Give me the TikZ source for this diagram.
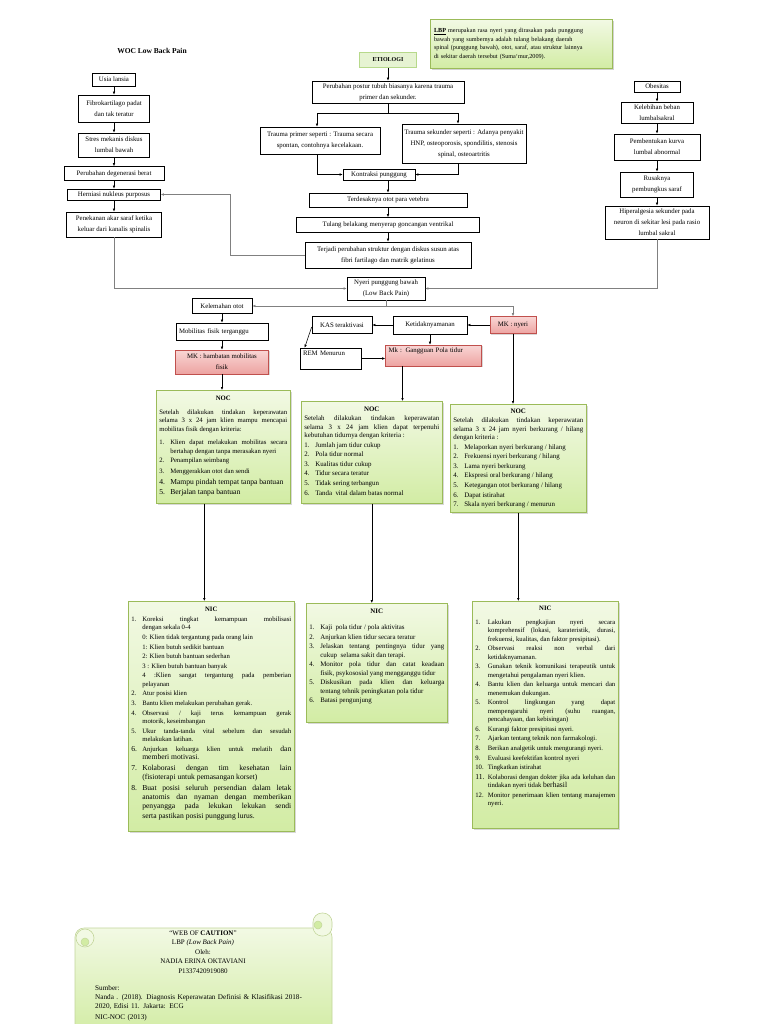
\documentclass[tikz,border=0pt]{standalone}
\usepackage{fontspec}
\setmainfont{Liberation Serif}
\usepackage{xcolor}
\usetikzlibrary{positioning, arrows.meta, shadows}
\definecolor{nocgreen}{HTML}{F2F9E4}
\definecolor{nocgreendeep}{HTML}{D2ECA4}
\definecolor{nocline}{HTML}{9BBB59}
\definecolor{mkpink}{HTML}{F9D6D5}
\definecolor{mkpinkdeep}{HTML}{EDA3A1}
\definecolor{mkline}{HTML}{C0504D}
\definecolor{linegray}{HTML}{808080}
\definecolor{etiofill}{HTML}{E6F3D2}
\definecolor{etioglow}{HTML}{B7D98B}

\newcommand{\flowfont}{\fontsize{6.8}{11}\selectfont}
\newcommand{\tinyfont}{\fontsize{6.7}{8.4}\selectfont}
\newcommand{\panelfont}{\fontsize{6.9}{8.4}\selectfont}
\newcommand{\bigfont}{\fontsize{7.6}{9.4}\selectfont}
\newlength{\itmw}
\newcommand{\itm}[2]{\par\hangindent=\itmw\hangafter=1\noindent\makebox[\itmw][l]{#1}#2}
\newcommand{\subitm}[1]{\par\hangindent=\itmw\hangafter=0\noindent #1}
\newcommand{\panel}[3]{\parbox[t][#1][t]{#2}{\parindent=0pt\parskip=1.2pt\tolerance=9999\emergencystretch=10pt\hyphenpenalty=10000\setlength{\itmw}{11pt}#3\par}}

\begin{document}
\begin{tikzpicture}[x=1pt, y=-1pt,
    box/.style={draw, line width=0.7pt, fill=white, align=center, font=\flowfont, inner sep=1pt},
    mkbox/.style={draw=mkline, line width=0.6pt, top color=mkpink, bottom color=mkpinkdeep,
      drop shadow={opacity=0.3, shadow xshift=1.2pt, shadow yshift=-1.2pt},
      align=center, font=\flowfont, inner sep=1pt},
    greenbox/.style={draw=nocline, line width=0.6pt, top color=nocgreen, bottom color=nocgreendeep,
      drop shadow={opacity=0.3, shadow xshift=1.5pt, shadow yshift=-1.5pt},
      anchor=north west, inner xsep=3pt, inner ysep=2pt},
    arr/.style={-{Latex[length=3pt,width=2.6pt]}, line width=0.55pt},
    feed/.style={arr, draw=linegray}]
  \useasboundingbox (0,0) rectangle (768,1024);
  \fill[white] (0,0) rectangle (768,1024);

  \node[font=\fontsize{7.5}{9}\selectfont\bfseries] (title) at (152,51) {WOC Low Back Pain};

  % left column
  \node[box, minimum width=43pt, minimum height=13pt] (usia) at (114,79.5) {Usia lansia};
  \node[box, minimum width=71pt, minimum height=27pt] (fibro) at (114,108.5) {Fibrokartilago padat\\dan tak teratur};
  \node[box, minimum width=71pt, minimum height=24pt] (stres) at (114,145) {Stres mekanis diskus\\lumbal bawah};
  \node[box, minimum width=100pt, minimum height=14pt] (degen) at (114,173.5) {Perubahan degenerasi berat};
  \node[box, minimum width=93pt, minimum height=11pt] (hernia) at (114,194.5) {Herniasi nukleus purposus};
  \node[box, minimum width=95pt, minimum height=25pt] (tekan) at (114,224.5) {Penekanan akar saraf ketika\\keluar dari kanalis spinalis};

  % etiologi
  \node[draw=etioglow, line width=1.6pt, fill=etiofill, minimum width=57pt, minimum height=15pt,
        font=\fontsize{6}{7}\selectfont\bfseries] (etio) at (388,60) {ETIOLOGI};
  \node[box, minimum width=152pt, minimum height=22pt] (postur) at (388,92) {Perubahan postur tubuh biasanya karena trauma\\primer dan sekunder.};
  \node[box, minimum width=120pt, minimum height=27pt] (primer) at (320,140.5) {Trauma primer seperti : Trauma secara\\spontan, contohnya kecelakaan.};
  \node[box, minimum width=124pt, minimum height=39pt] (sekunder) at (464,143.5) {Trauma sekunder seperti : Adanya penyakit\\HNP, osteoporosis, spondilitis, stenosis\\spinal, osteoartritis};
  \node[box, minimum width=72pt, minimum height=11pt] (kontraksi) at (379,174.5) {Kontraksi punggung};
  \node[box, minimum width=158pt, minimum height=14pt] (desak) at (388,200) {Terdesaknya otot para vetebra};
  \node[box, minimum width=183pt, minimum height=15pt] (tulang) at (388,225) {Tulang belakang menyerap goncangan ventrikal};
  \node[box, minimum width=166pt, minimum height=26pt] (struktur) at (388,255) {Terjadi perubahan struktur dengan diskus susun atas\\fibri fartilago dan matrik gelatinus};

  \node[draw=nocline, line width=0.6pt, top color=nocgreen, bottom color=nocgreendeep,
        drop shadow={opacity=0.35, shadow xshift=2pt, shadow yshift=-2pt},
        text width=174pt, align=left, font=\fontsize{6.2}{8.4}\selectfont,
        inner xsep=4pt, inner ysep=3pt, minimum height=49pt] (lbp) at (521,44)
       {\underline{\textbf{LBP}} merupakan rasa nyeri yang dirasakan pada punggung\\
        bawah yang sumbernya adalah tulang belakang daerah\\
        spinal (punggung bawah), otot, saraf, atau struktur lainnya\\
        di sekitar daerah tersebut (Suma`mur,2009).};

  % right column
  \node[box, minimum width=46pt, minimum height=11pt] (obes) at (657,86.5) {Obesitas};
  \node[box, minimum width=72pt, minimum height=21pt] (beban) at (657,112.5) {Kelebihan beban\\lumbalsakral};
  \node[box, minimum width=86pt, minimum height=26pt] (kurva) at (657,147) {Pembentukan kurva\\lumbal abnormal};
  \node[box, minimum width=73pt, minimum height=25pt] (rusak) at (657,184.5) {Rusaknya\\pembungkus saraf};
  \node[box, minimum width=104pt, minimum height=33pt] (hiper) at (657,222.5) {Hiperalgesia sekunder pada\\neuron di sekitar lesi pada rasio\\lumbal sakral};

  % diagnoses
  \node[box, minimum width=78pt, minimum height=23pt] (nyeri) at (386,288.5) {Nyeri punggung bawah\\(Low Back Pain)};
  \node[box, minimum width=60pt, minimum height=15pt] (lemah) at (222,306) {Kelemahan otot};
  \node[box, text width=86pt, align=left, inner xsep=3pt, minimum height=17pt] (mobil) at (222,331.5) {Mobilitas fisik terganggu};
  \node[mkbox, minimum width=93pt, minimum height=24pt] (mkgerak) at (222,362) {MK : hambatan mobilitas\\fisik};
  \node[box, minimum width=60pt, minimum height=17pt] (kas) at (342,325) {KAS teraktivasi};
  \node[box, minimum width=74pt, minimum height=18pt] (tidaknyaman) at (430,325) {Ketidaknyamanan};
  \node[mkbox, minimum width=46pt, minimum height=17pt] (mknyeri) at (513,325) {MK : nyeri};
  \node[box, text width=55pt, align=left, inner xsep=3pt, text height=6pt, text depth=13pt] (rem) at (330.5,358.5) {REM Menurun};
  \node[mkbox, text width=90pt, align=left, inner xsep=3pt, text height=6pt, text depth=13pt] (mktidur) at (433.5,355.5) {Mk : Gangguan Pola tidur};

  % NOC
  \node[greenbox] (nocA) at (156,390) {\panel{109pt}{128pt}{\tinyfont\vspace*{3pt}
    {\centering\textbf{NOC}\par}\vspace{4pt}
    Setelah dilakukan tindakan keperawatan\linebreak selama 3 x 24 jam klien mampu mencapai\linebreak mobilitas fisik dengan kriteria:\par\vspace{4pt}
    \itm{1.}{Klien dapat melakukan mobilitas secara\linebreak bertahap dengan tanpa merasakan nyeri}
    \itm{2.}{Penampilan seimbang}
    \itm{3.}{Menggerakkan otot dan sendi}
    \bigfont
    \itm{4.}{Mampu pindah tempat tanpa bantuan}
    \itm{5.}{Berjalan tanpa bantuan}}};
  \node[greenbox] (nocB) at (301,401) {\panel{98pt}{135pt}{\panelfont\vspace*{2pt}
    {\centering\textbf{NOC}\par}
    Setelah dilakukan tindakan keperawatan\linebreak selama 3 x 24 jam klien dapat terpenuhi\linebreak kebutuhan tidurnya dengan kriteria :
    \itm{1.}{Jumlah jam tidur cukup}
    \itm{2.}{Pola tidur normal}
    \itm{3.}{Kualitas tidur cukup}
    \itm{4.}{Tidur secara teratur}
    \itm{5.}{Tidak sering terbangun}
    \itm{6.}{Tanda\ \ vital dalam batas normal}}};
  \node[greenbox] (nocC) at (450,404) {\panel{104pt}{130pt}{\panelfont\vspace*{1pt}
    {\centering\textbf{NOC}\par}
    Setelah dilakukan tindakan keperawatan\linebreak selama 3 x 24 jam nyeri berkurang / hilang\linebreak dengan kriteria :
    \itm{1.}{Melaporkan nyeri berkurang / hilang}
    \itm{2.}{Frekuensi nyeri berkurang / hilang}
    \itm{3.}{Lama nyeri berkurang}
    \itm{4.}{Ekspresi oral berkurang / hilang}
    \itm{5.}{Ketegangan otot berkurang / hilang}
    \itm{6.}{Dapat istirahat}
    \itm{7.}{Skala nyeri berkurang / menurun}}};

  % NIC
  \node[greenbox] (nicA) at (128,601) {\panel{226pt}{160pt}{\tinyfont\vspace*{3pt}
    {\centering\textbf{NIC}\par}
    \itm{1.}{Koreksi tingkat kemampuan mobilisasi\linebreak dengan sekala 0-4}
    \subitm{0: Klien tidak tergantung pada orang lain}
    \subitm{1: Klien butuh sedikit bantuan}
    \subitm{2: Klien butuh bantuan sederhan}
    \subitm{3 : Klien butuh bantuan banyak}
    \subitm{4 :Klien sangat tergantung pada pemberian\linebreak pelayanan}
    \itm{2.}{Atur posisi klien}
    \itm{3.}{Bantu klien melakukan perubahan gerak.}
    \itm{4.}{Observasi / kaji terus kemampuan gerak\linebreak motorik, keseimbangan}
    \itm{5.}{Ukur tanda-tanda vital sebelum dan sesudah\linebreak melakukan latihan.}
    \itm{\bigfont 6.}{Anjurkan keluarga klien untuk melatih {\bigfont dan\linebreak memberi motivasi.}}
    \itm{\bigfont 7.}{\bigfont Kolaborasi dengan tim kesehatan lain\linebreak (fisioterapi untuk pemasangan korset)}
    \itm{\bigfont 8.}{Buat posisi seluruh persendian dalam letak\linebreak anatomis dan nyaman dengan memberikan\linebreak penyangga pada lekukan {\bigfont lekukan sendi\linebreak serta pastikan posisi punggung lurus.}}}};
  \node[greenbox] (nicB) at (306,603) {\panel{115pt}{135pt}{\panelfont\vspace*{2pt}
    {\centering\textbf{NIC}\par}\vspace{7pt}
    \itm{1.}{Kaji\ \ pola tidur / pola aktivitas}
    \itm{2.}{Anjurkan klien tidur secara teratur}
    \itm{3.}{Jelaskan tentang pentingnya tidur yang\linebreak cukup\ \ selama sakit dan terapi.}
    \itm{4.}{Monitor pola tidur dan catat keadaan\linebreak fisik, psykososial yang mengganggu tidur}
    \itm{5.}{Diskusikan pada klien dan keluarga\linebreak tentang tehnik peningkatan pola tidur}
    \itm{6.}{Batasi pengunjung}}};
  \node[greenbox] (nicC) at (472,601) {\panel{223pt}{140pt}{\fontsize{6.7}{8.4}\selectfont\setlength{\itmw}{12.5pt}\vspace*{2pt}
    {\centering\textbf{NIC}\par}\vspace{4pt}
    \itm{1.}{Lakukan pengkajian nyeri secara\linebreak komprehensif (lokasi, karateristik, durasi,\linebreak frekuensi, kualitas, dan faktor presipitasi).}
    \itm{2.}{Observasi reaksi non verbal dari\linebreak ketidaknyamanan.}
    \itm{3.}{Gunakan teknik komunikasi terapeutik untuk\linebreak mengetahui pengalaman nyeri klien.}
    \itm{4.}{Bantu klien dan keluarga untuk mencari dan\linebreak menemukan dukungan.}
    \itm{5.}{Kontrol lingkungan yang dapat\linebreak mempengaruhi nyeri (suhu ruangan,\linebreak pencahayaan, dan kebisingan)}
    \itm{6.}{Kurangi faktor presipitasi nyeri.}
    \itm{7.}{Ajarkan tentang teknik non farmakologi.}
    \itm{8.}{Berikan analgetik untuk mengurangi nyeri.}
    \itm{9.}{Evaluasi keefektifan kontrol nyeri}
    \itm{10.}{Tingkatkan istirahat}
    \itm{\bigfont 11.}{Kolaborasi dengan dokter jika ada keluhan dan\linebreak tindakan nyeri tidak {\bigfont berhasil}}
    \itm{12.}{Monitor penerimaan klien tentang manajemen\linebreak nyeri.}}};

  % arrows
  \draw[arr] (usia) -- (fibro);
  \draw[arr] (fibro) -- (stres);
  \draw[arr] (stres) -- (degen);
  \draw[arr] (degen) -- (hernia);
  \draw[arr] (hernia) -- (tekan);
  \draw[feed] (tekan.south) |- (nyeri.west);
  \draw[feed] (struktur.west) -- ++(-74,0) |- (hernia.east);
  \draw[arr] (etio) -- (postur);
  \draw[arr] (postur.south) -- ++(0,10) -| ([xshift=-3pt]primer.north);
  \draw[arr] (postur.south) -- ++(0,10) -| ([xshift=-6pt]sekunder.north);
  \draw[arr] ([xshift=-3pt]primer.south) |- (kontraksi.west);
  \draw[arr] ([xshift=-6pt]sekunder.south) |- (kontraksi.east);
  \draw[arr] (kontraksi.south -| desak.north) -- (desak.north);
  \draw[arr] (desak) -- (tulang);
  \draw[arr] (tulang) -- (struktur);
  \draw[arr] (obes) -- (beban);
  \draw[arr] (beban) -- (kurva);
  \draw[arr] (kurva) -- (rusak);
  \draw[arr] (rusak) -- (hiper);
  \draw[feed] (hiper.south) |- (nyeri.east);
  \draw[feed] (nyeri.south) |- (lemah.east);
  \draw[feed] (nyeri.south) -- ++(0,6) -| (mknyeri.north);
  \draw[arr] (lemah) -- (mobil);
  \draw[arr] (mobil) -- (mkgerak);
  \draw[arr] (mknyeri) -- (tidaknyaman);
  \draw[arr] (tidaknyaman) -- (kas);
  \draw[arr] ([yshift=-2pt]kas.west) -- ([xshift=5pt]rem.north west);
  \draw[arr] (tidaknyaman.south) -- (tidaknyaman.south |- mktidur.north);
  \draw[arr] (rem.east) -- (rem.east -| mktidur.west);
  \draw[arr] (mkgerak.south) -- (mkgerak.south |- nocA.north);
  \draw[arr] ([xshift=-31pt]mktidur.south) -- ([xshift=-31pt]mktidur.south |- nocB.north);
  \draw[arr] (mknyeri.south) -- (mknyeri.south |- nocC.north);
  \draw[arr] ([xshift=-19pt]nocA.south) -- ([xshift=-19pt]nocA.south |- nicA.north);
  \draw[arr] (nocB.south) -- (nocB.south |- nicB.north);
  \draw[arr] (nocC.south) -- (nocC.south |- nicC.north);

  % scroll
  \shade[top color=nocgreen, bottom color=nocgreendeep, draw=nocline!60, line width=0.6pt, rounded corners=9pt]
    (75,1035) -- (75,928) -- (332,928) -- (332,1035);
  \filldraw[fill=nocgreen, draw=nocline!60, line width=0.6pt, rounded corners=9pt] (313,936) rectangle (332,913);
  \filldraw[fill=nocgreendeep, draw=nocline!60, line width=0.5pt] (318,925) circle (4);
  \filldraw[fill=nocgreen, draw=nocline!60, line width=0.6pt] (85,938) circle (9);
  \filldraw[fill=nocgreendeep, draw=nocline!60, line width=0.5pt] (85,942) circle (4);
  \node[font=\fontsize{7}{9.4}\selectfont, align=center] (scrolltitle) at (203,952)
    {``WEB OF \textbf{CAUTION}''\\LBP \textit{(Low Back Pain)}\\Oleh:\\NADIA ERINA OKTAVIANI\\P1337420919080};
  \node[font=\fontsize{7.2}{9}\selectfont, align=left, anchor=north west, text width=232pt, inner sep=0pt] (sumber) at (95,985)
    {Sumber:\\Nanda . (2018). Diagnosis Keperawatan Definisi \& Klasifikasi 2018-\\2020, Edisi 11. Jakarta: ECG\\[2pt]NIC-NOC (2013)};
\end{tikzpicture}
\end{document}
